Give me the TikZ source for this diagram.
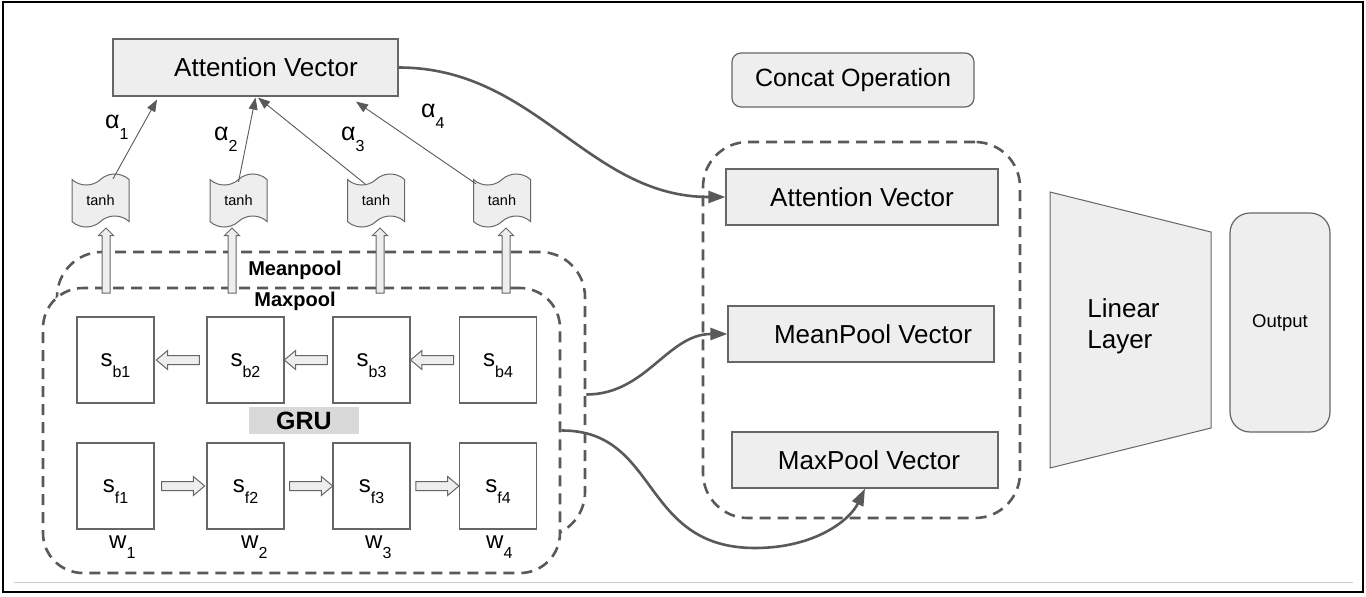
\documentclass[tikz,border=0pt]{standalone}
\usepackage{fontspec}
\setmainfont{Liberation Sans}
\usetikzlibrary{arrows.meta,shapes.symbols,shapes.arrows,calc}
\definecolor{boxgray}{HTML}{EEEEEE}
\definecolor{edgegray}{HTML}{666666}
\definecolor{linegray}{HTML}{595959}
\definecolor{grugray}{HTML}{D9D9D9}
\newcommand{\fsz}[1]{\fontsize{#1}{#1}\selectfont}
\newcommand{\lowsub}[1]{\raisebox{-0.45em}{\fsz{16}#1}}

\begin{document}
\begin{tikzpicture}[x=1pt,y=-1pt,
  vecbox/.style={draw=edgegray,fill=boxgray,line width=1.2pt,inner sep=0pt,font=\fsz{26}},
  statebox/.style={draw=edgegray,line width=1.2pt,minimum width=77pt,minimum height=86pt,inner sep=0pt,text depth=0pt,font=\fsz{24}},
  tanhbox/.style={tape,draw=edgegray,fill=boxgray,line width=1pt,minimum width=57pt,minimum height=53pt,tape bend height=11pt,inner sep=0pt,font=\fsz{14.5}},
  poolbox/.style={draw=linegray,line width=2.6pt,dash pattern=on 11pt off 7pt,inner sep=0pt},
  hollow/.style={single arrow,draw=edgegray,fill=boxgray,line width=1pt,inner sep=0pt,text width=0pt,text depth=0pt,single arrow head indent=0pt},
  uparr/.style={hollow,rotate=90,text height=7pt,minimum height=65pt,single arrow head extend=3.5pt},
  fwdarr/.style={hollow,text height=8pt,minimum height=43pt,single arrow head extend=5pt,single arrow tip angle=80},
  bwdarr/.style={fwdarr,rotate=180},
  curve/.style={draw=linegray,line width=2.6pt,-{Triangle[length=17pt,width=12pt]}},
  alpharr/.style={draw=linegray,line width=0.9pt,-{Triangle[length=12pt,width=9pt]}},
  lbl/.style={inner sep=0pt,anchor=base west,font=\fsz{24}}
]
\useasboundingbox (0,0) rectangle (1366,597);
\draw[line width=2pt] (3,2) rectangle (1363,592);
\draw[black!20] (14,582) -- (1353,582);

% pooling boxes round the GRU
\node[poolbox,rounded corners=45pt,minimum width=528pt,minimum height=285pt] (meanbox) at (321,394.5) {};
\node[poolbox,fill=white,rounded corners=40pt,minimum width=517pt,minimum height=285pt] (maxbox) at (301.5,430.5) {};
\node[font=\bfseries\fsz{20}] (meanlbl) at (295,270) {Meanpool};
\node[font=\bfseries\fsz{20}] (maxlbl) at (295,301) {Maxpool};

% GRU states
\foreach \i/\x in {1/115.5,2/245.5,3/371.5,4/498}{
  \node[statebox] (sb\i) at (\x,360) {s\lowsub{b\i}};
  \node[statebox] (sf\i) at (\x,486) {s\lowsub{f\i}};
}
\node[fill=grugray,minimum width=110pt,minimum height=27pt,inner sep=0pt,font=\bfseries\fsz{25}] (gru) at (304,420.5) {GRU};
\foreach \i/\j in {1/2,2/3,3/4}{
  \node[fwdarr] (f\i) at ($(sf\i.east)!.5!(sf\j.west)$) {};
  \node[bwdarr] (b\i) at ($(sb\i.east)!.5!(sb\j.west)$) {};
}
\foreach \i/\x in {1/109,2/241,3/365,4/486}
  \node[lbl] (w\i) at (\x,548) {w\lowsub{\i}};

% attention
\node[vecbox,minimum width=285pt,minimum height=57pt] (att) at (255.5,67.5) {\hspace{21pt}Attention Vector};
\foreach \i/\x/\u in {1/100.5/106,2/238.5/232,3/376/380,4/502/506}{
  \node[tanhbox] (t\i) at (\x,200.5) {tanh};
  \node[uparr] (u\i) at (\u,262.5) {};
}
\draw[alpharr] ([xshift=12.5pt]t1.north) -- ([xshift=-98.5pt,yshift=-3pt]att.south);
\draw[alpharr] ([yshift=-3pt]t2.north) -- ([yshift=-1pt]att.south);
\draw[alpharr] ([xshift=-11pt,yshift=-5pt]t3.north) -- ([xshift=2.5pt,yshift=-1pt]att.south);
\draw[alpharr] ([xshift=-26pt,yshift=-5pt]t4.north) -- ([xshift=100.5pt,yshift=-5pt]att.south);
\node[lbl,font=\fsz{25}] (a1) at (105,128) {α\lowsub{1}};
\node[lbl,font=\fsz{25}] (a2) at (214,140) {α\lowsub{2}};
\node[lbl,font=\fsz{25}] (a3) at (341,140) {α\lowsub{3}};
\node[lbl,font=\fsz{25}] (a4) at (421,117) {α\lowsub{4}};

% concat and output
\node[draw=edgegray,fill=boxgray,line width=1.2pt,rounded corners=9pt,minimum width=242pt,minimum height=54pt,font=\fsz{25}] (concat) at (853,80) {Concat Operation};
\node[poolbox,rounded corners=45pt,minimum width=317pt,minimum height=376pt] (catbox) at (861.5,330) {};
\node[vecbox,minimum width=272pt,minimum height=56pt] (attvec) at (862,197) {Attention Vector};
\node[vecbox,minimum width=266pt,minimum height=56pt] (meanvec) at (861,334) {\hspace{24pt}MeanPool Vector};
\node[vecbox,minimum width=266pt,minimum height=56pt] (maxvec) at (865,460) {\hspace{8pt}MaxPool Vector};
\draw[draw=edgegray,fill=boxgray,line width=1pt] (1050,192) -- (1211,232) -- (1211,428) -- (1050,468) -- cycle;
\node[align=left,inner sep=0pt,font=\fontsize{26}{31}\selectfont] (linear) at (1123.5,326) {Linear\\Layer};
\node[draw=edgegray,fill=boxgray,line width=1.2pt,rounded corners=20pt,minimum width=100pt,minimum height=219pt,font=\fsz{18.5}] (out) at (1280,322.5) {Output};

\draw[curve] (att.east) to[out=0,in=180] (attvec.west);
\draw[curve] (meanbox.east) to[out=0,in=180] (meanvec.west);
\draw[curve] (maxbox.east) .. controls (660,430) and (640,548) .. (755,548) .. controls (815,548) and (850,520) .. (maxvec.south);
\end{tikzpicture}
\end{document}
